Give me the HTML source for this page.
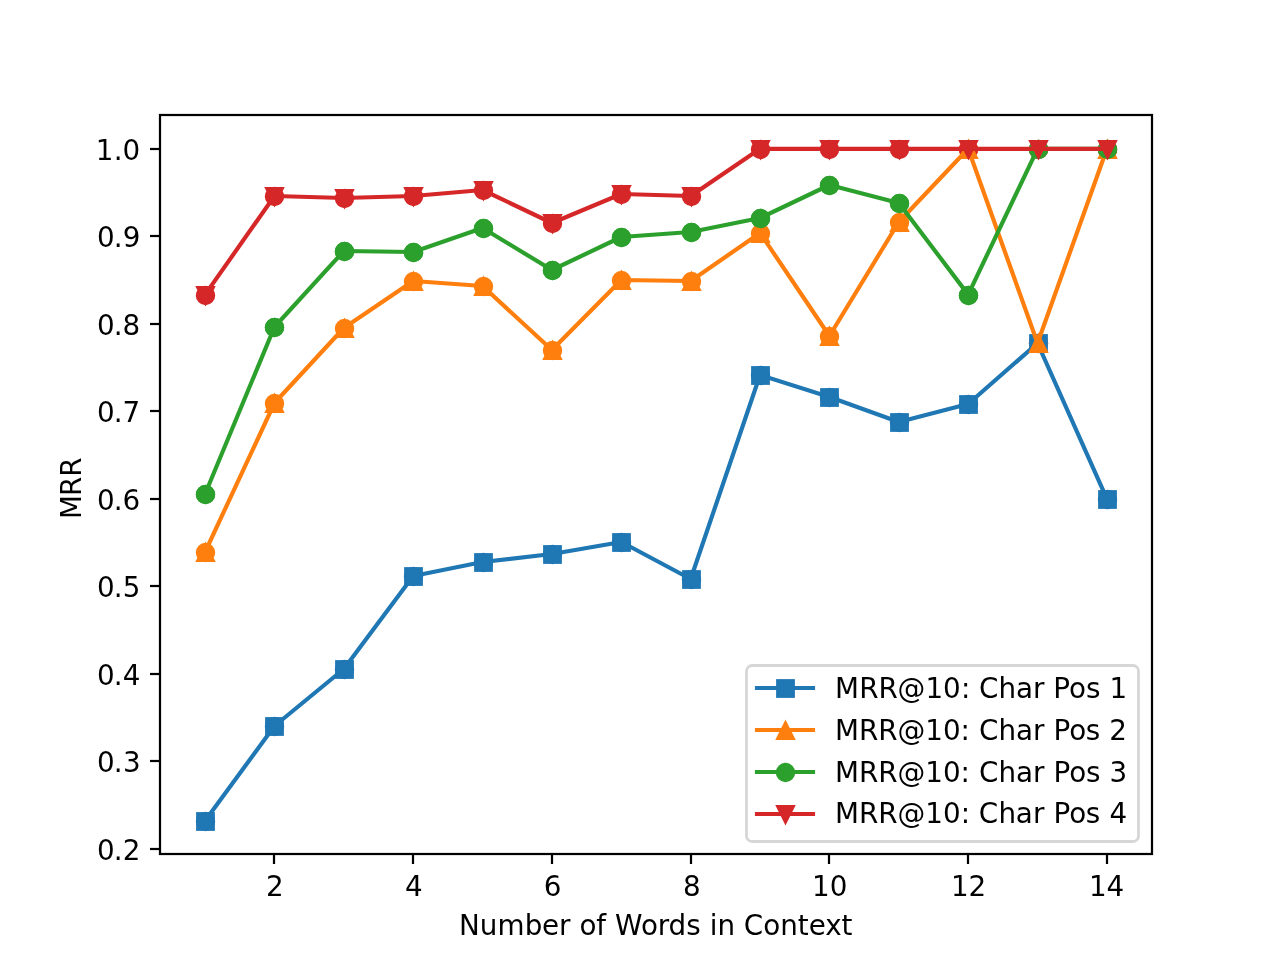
<!DOCTYPE html>
<html lang="en"><head><meta charset="utf-8"><title>MRR vs Number of Words in Context</title>
<style>html,body{margin:0;padding:0;background:#fff;overflow:hidden}svg{display:block}text{font-family:"DejaVu Sans","Liberation Sans",sans-serif;font-size:27.78px;fill:#000}</style></head><body>
<svg width="1280" height="960" viewBox="0 0 1280 960">
<rect width="1280" height="960" fill="#fff"/>
<g>
<circle cx="205.50" cy="821.50" r="8.333" fill="#1f77b4" stroke="#1f77b4" stroke-width="2.778"/>
<circle cx="274.50" cy="726.50" r="8.333" fill="#1f77b4" stroke="#1f77b4" stroke-width="2.778"/>
<circle cx="344.50" cy="669.50" r="8.333" fill="#1f77b4" stroke="#1f77b4" stroke-width="2.778"/>
<circle cx="413.50" cy="576.50" r="8.333" fill="#1f77b4" stroke="#1f77b4" stroke-width="2.778"/>
<circle cx="483.50" cy="562.50" r="8.333" fill="#1f77b4" stroke="#1f77b4" stroke-width="2.778"/>
<circle cx="552.50" cy="554.50" r="8.333" fill="#1f77b4" stroke="#1f77b4" stroke-width="2.778"/>
<circle cx="621.50" cy="542.50" r="8.333" fill="#1f77b4" stroke="#1f77b4" stroke-width="2.778"/>
<circle cx="691.50" cy="579.50" r="8.333" fill="#1f77b4" stroke="#1f77b4" stroke-width="2.778"/>
<circle cx="760.50" cy="375.50" r="8.333" fill="#1f77b4" stroke="#1f77b4" stroke-width="2.778"/>
<circle cx="829.50" cy="397.50" r="8.333" fill="#1f77b4" stroke="#1f77b4" stroke-width="2.778"/>
<circle cx="899.50" cy="422.50" r="8.333" fill="#1f77b4" stroke="#1f77b4" stroke-width="2.778"/>
<circle cx="968.50" cy="404.50" r="8.333" fill="#1f77b4" stroke="#1f77b4" stroke-width="2.778"/>
<circle cx="1038.50" cy="343.50" r="8.333" fill="#1f77b4" stroke="#1f77b4" stroke-width="2.778"/>
<circle cx="1107.50" cy="499.50" r="8.333" fill="#1f77b4" stroke="#1f77b4" stroke-width="2.778"/>
<circle cx="205.50" cy="552.50" r="8.333" fill="#ff7f0e" stroke="#ff7f0e" stroke-width="2.778"/>
<circle cx="274.50" cy="403.50" r="8.333" fill="#ff7f0e" stroke="#ff7f0e" stroke-width="2.778"/>
<circle cx="344.50" cy="328.50" r="8.333" fill="#ff7f0e" stroke="#ff7f0e" stroke-width="2.778"/>
<circle cx="413.50" cy="281.50" r="8.333" fill="#ff7f0e" stroke="#ff7f0e" stroke-width="2.778"/>
<circle cx="483.50" cy="286.50" r="8.333" fill="#ff7f0e" stroke="#ff7f0e" stroke-width="2.778"/>
<circle cx="552.50" cy="350.50" r="8.333" fill="#ff7f0e" stroke="#ff7f0e" stroke-width="2.778"/>
<circle cx="621.50" cy="280.50" r="8.333" fill="#ff7f0e" stroke="#ff7f0e" stroke-width="2.778"/>
<circle cx="691.50" cy="281.50" r="8.333" fill="#ff7f0e" stroke="#ff7f0e" stroke-width="2.778"/>
<circle cx="760.50" cy="233.50" r="8.333" fill="#ff7f0e" stroke="#ff7f0e" stroke-width="2.778"/>
<circle cx="829.50" cy="336.50" r="8.333" fill="#ff7f0e" stroke="#ff7f0e" stroke-width="2.778"/>
<circle cx="899.50" cy="222.50" r="8.333" fill="#ff7f0e" stroke="#ff7f0e" stroke-width="2.778"/>
<circle cx="968.50" cy="149.50" r="8.333" fill="#ff7f0e" stroke="#ff7f0e" stroke-width="2.778"/>
<circle cx="1038.50" cy="343.50" r="8.333" fill="#ff7f0e" stroke="#ff7f0e" stroke-width="2.778"/>
<circle cx="1107.50" cy="149.50" r="8.333" fill="#ff7f0e" stroke="#ff7f0e" stroke-width="2.778"/>
<circle cx="205.50" cy="494.50" r="8.333" fill="#2ca02c" stroke="#2ca02c" stroke-width="2.778"/>
<circle cx="274.50" cy="327.50" r="8.333" fill="#2ca02c" stroke="#2ca02c" stroke-width="2.778"/>
<circle cx="344.50" cy="251.50" r="8.333" fill="#2ca02c" stroke="#2ca02c" stroke-width="2.778"/>
<circle cx="413.50" cy="252.50" r="8.333" fill="#2ca02c" stroke="#2ca02c" stroke-width="2.778"/>
<circle cx="483.50" cy="228.50" r="8.333" fill="#2ca02c" stroke="#2ca02c" stroke-width="2.778"/>
<circle cx="552.50" cy="270.50" r="8.333" fill="#2ca02c" stroke="#2ca02c" stroke-width="2.778"/>
<circle cx="621.50" cy="237.50" r="8.333" fill="#2ca02c" stroke="#2ca02c" stroke-width="2.778"/>
<circle cx="691.50" cy="232.50" r="8.333" fill="#2ca02c" stroke="#2ca02c" stroke-width="2.778"/>
<circle cx="760.50" cy="218.50" r="8.333" fill="#2ca02c" stroke="#2ca02c" stroke-width="2.778"/>
<circle cx="829.50" cy="185.50" r="8.333" fill="#2ca02c" stroke="#2ca02c" stroke-width="2.778"/>
<circle cx="899.50" cy="203.50" r="8.333" fill="#2ca02c" stroke="#2ca02c" stroke-width="2.778"/>
<circle cx="968.50" cy="295.50" r="8.333" fill="#2ca02c" stroke="#2ca02c" stroke-width="2.778"/>
<circle cx="1038.50" cy="149.50" r="8.333" fill="#2ca02c" stroke="#2ca02c" stroke-width="2.778"/>
<circle cx="1107.50" cy="149.50" r="8.333" fill="#2ca02c" stroke="#2ca02c" stroke-width="2.778"/>
<circle cx="205.50" cy="295.50" r="8.333" fill="#d62728" stroke="#d62728" stroke-width="2.778"/>
<circle cx="274.50" cy="196.50" r="8.333" fill="#d62728" stroke="#d62728" stroke-width="2.778"/>
<circle cx="344.50" cy="198.50" r="8.333" fill="#d62728" stroke="#d62728" stroke-width="2.778"/>
<circle cx="413.50" cy="196.50" r="8.333" fill="#d62728" stroke="#d62728" stroke-width="2.778"/>
<circle cx="483.50" cy="190.50" r="8.333" fill="#d62728" stroke="#d62728" stroke-width="2.778"/>
<circle cx="552.50" cy="223.50" r="8.333" fill="#d62728" stroke="#d62728" stroke-width="2.778"/>
<circle cx="621.50" cy="194.50" r="8.333" fill="#d62728" stroke="#d62728" stroke-width="2.778"/>
<circle cx="691.50" cy="196.50" r="8.333" fill="#d62728" stroke="#d62728" stroke-width="2.778"/>
<circle cx="760.50" cy="149.50" r="8.333" fill="#d62728" stroke="#d62728" stroke-width="2.778"/>
<circle cx="829.50" cy="149.50" r="8.333" fill="#d62728" stroke="#d62728" stroke-width="2.778"/>
<circle cx="899.50" cy="149.50" r="8.333" fill="#d62728" stroke="#d62728" stroke-width="2.778"/>
<circle cx="968.50" cy="149.50" r="8.333" fill="#d62728" stroke="#d62728" stroke-width="2.778"/>
<circle cx="1038.50" cy="149.50" r="8.333" fill="#d62728" stroke="#d62728" stroke-width="2.778"/>
<circle cx="1107.50" cy="149.50" r="8.333" fill="#d62728" stroke="#d62728" stroke-width="2.778"/>
</g>
<g stroke="#000" stroke-width="2.222" fill="none">
<path d="M274 854V864"/>
<path d="M413 854V864"/>
<path d="M552 854V864"/>
<path d="M691 854V864"/>
<path d="M829 854V864"/>
<path d="M968 854V864"/>
<path d="M1107 854V864"/>
<path d="M160 849H150"/>
<path d="M160 761H150"/>
<path d="M160 674H150"/>
<path d="M160 586H150"/>
<path d="M160 499H150"/>
<path d="M160 411H150"/>
<path d="M160 324H150"/>
<path d="M160 236H150"/>
<path d="M160 149H150"/>
</g>
<text id="t_xt2" x="265.96" y="896.00">2</text>
<text id="t_xt4" x="405.05" y="896.00">4</text>
<text id="t_xt6" x="543.86" y="896.00">6</text>
<text id="t_xt8" x="682.93" y="896.00">8</text>
<text id="t_xt10" x="811.90 829.75" y="896.00">10</text>
<text id="t_xt12" x="950.89 968.61" y="896.00">12</text>
<text id="t_xt14" x="1089.02 1106.60" y="896.00">14</text>
<text id="t_xl" x="458.92 479.75 497.51 524.76 541.97 559.09 570.59 579.50 596.37 606.14 614.94 640.92 657.71 668.60 686.34 700.84 709.66 717.44 734.98 743.76 763.34 780.29 797.84 808.74 825.19 841.54" y="935.00">Number of Words in Context</text>
<text id="t_yl" x="-30.53 -7.55 11.76" transform="translate(81.33 488.47) rotate(-90)">MRR</text>
<text id="t_yt2" x="96.97 113.79 122.68" y="860.00">0.2</text>
<text id="t_yt3" x="97.11 113.69 122.91" y="772.00">0.3</text>
<text id="t_yt4" x="97.04 113.86 122.63" y="685.00">0.4</text>
<text id="t_yt5" x="97.09 113.69 122.82" y="597.00">0.5</text>
<text id="t_yt6" x="97.08 113.66 122.54" y="510.00">0.6</text>
<text id="t_yt7" x="97.01 113.83 122.54" y="422.00">0.7</text>
<text id="t_yt8" x="96.98 113.80 122.58" y="335.00">0.8</text>
<text id="t_yt9" x="97.11 113.69 122.80" y="247.00">0.9</text>
<text id="t_yt10" x="95.87 113.70 122.43" y="160.00">1.0</text>
<polyline points="205.09,820.80 274.46,726.00 343.83,669.00 413.20,576.00 482.57,562.00 551.94,554.00 621.31,542.00 690.69,579.00 760.06,375.00 829.43,397.00 898.80,422.00 968.17,404.00 1037.54,343.24 1106.91,498.80" fill="none" stroke="#1f77b4" stroke-width="4.167" stroke-linejoin="round" stroke-linecap="butt"/>
<g>
<rect x="197.50" y="813.50" width="16.000" height="16.000" fill="#1f77b4" stroke="#1f77b4" stroke-width="2.778" stroke-linejoin="miter"/>
<rect x="266.50" y="718.50" width="16.000" height="16.000" fill="#1f77b4" stroke="#1f77b4" stroke-width="2.778" stroke-linejoin="miter"/>
<rect x="336.50" y="661.50" width="16.000" height="16.000" fill="#1f77b4" stroke="#1f77b4" stroke-width="2.778" stroke-linejoin="miter"/>
<rect x="405.50" y="568.50" width="16.000" height="16.000" fill="#1f77b4" stroke="#1f77b4" stroke-width="2.778" stroke-linejoin="miter"/>
<rect x="475.50" y="554.50" width="16.000" height="16.000" fill="#1f77b4" stroke="#1f77b4" stroke-width="2.778" stroke-linejoin="miter"/>
<rect x="544.50" y="546.50" width="16.000" height="16.000" fill="#1f77b4" stroke="#1f77b4" stroke-width="2.778" stroke-linejoin="miter"/>
<rect x="613.50" y="534.50" width="16.000" height="16.000" fill="#1f77b4" stroke="#1f77b4" stroke-width="2.778" stroke-linejoin="miter"/>
<rect x="683.50" y="571.50" width="16.000" height="16.000" fill="#1f77b4" stroke="#1f77b4" stroke-width="2.778" stroke-linejoin="miter"/>
<rect x="752.50" y="367.50" width="16.000" height="16.000" fill="#1f77b4" stroke="#1f77b4" stroke-width="2.778" stroke-linejoin="miter"/>
<rect x="821.50" y="389.50" width="16.000" height="16.000" fill="#1f77b4" stroke="#1f77b4" stroke-width="2.778" stroke-linejoin="miter"/>
<rect x="891.50" y="414.50" width="16.000" height="16.000" fill="#1f77b4" stroke="#1f77b4" stroke-width="2.778" stroke-linejoin="miter"/>
<rect x="960.50" y="396.50" width="16.000" height="16.000" fill="#1f77b4" stroke="#1f77b4" stroke-width="2.778" stroke-linejoin="miter"/>
<rect x="1030.50" y="335.50" width="16.000" height="16.000" fill="#1f77b4" stroke="#1f77b4" stroke-width="2.778" stroke-linejoin="miter"/>
<rect x="1099.50" y="491.50" width="16.000" height="16.000" fill="#1f77b4" stroke="#1f77b4" stroke-width="2.778" stroke-linejoin="miter"/>
</g>
<polyline points="205.09,552.00 274.46,403.00 343.83,328.00 413.20,281.00 482.57,286.00 551.94,350.00 621.31,280.00 690.69,281.00 760.06,233.00 829.43,336.00 898.80,222.00 968.17,148.80 1037.54,343.24 1106.91,148.80" fill="none" stroke="#ff7f0e" stroke-width="4.167" stroke-linejoin="round" stroke-linecap="butt"/>
<g>
<path d="M205.50 544.50L197.50 560.50L213.50 560.50Z" fill="#ff7f0e" stroke="#ff7f0e" stroke-width="2.778" stroke-linejoin="miter"/>
<path d="M274.50 395.50L266.50 411.50L282.50 411.50Z" fill="#ff7f0e" stroke="#ff7f0e" stroke-width="2.778" stroke-linejoin="miter"/>
<path d="M344.50 320.50L336.50 336.50L352.50 336.50Z" fill="#ff7f0e" stroke="#ff7f0e" stroke-width="2.778" stroke-linejoin="miter"/>
<path d="M413.50 273.50L405.50 289.50L421.50 289.50Z" fill="#ff7f0e" stroke="#ff7f0e" stroke-width="2.778" stroke-linejoin="miter"/>
<path d="M483.50 278.50L475.50 294.50L491.50 294.50Z" fill="#ff7f0e" stroke="#ff7f0e" stroke-width="2.778" stroke-linejoin="miter"/>
<path d="M552.50 342.50L544.50 358.50L560.50 358.50Z" fill="#ff7f0e" stroke="#ff7f0e" stroke-width="2.778" stroke-linejoin="miter"/>
<path d="M621.50 272.50L613.50 288.50L629.50 288.50Z" fill="#ff7f0e" stroke="#ff7f0e" stroke-width="2.778" stroke-linejoin="miter"/>
<path d="M691.50 273.50L683.50 289.50L699.50 289.50Z" fill="#ff7f0e" stroke="#ff7f0e" stroke-width="2.778" stroke-linejoin="miter"/>
<path d="M760.50 225.50L752.50 241.50L768.50 241.50Z" fill="#ff7f0e" stroke="#ff7f0e" stroke-width="2.778" stroke-linejoin="miter"/>
<path d="M829.50 328.50L821.50 344.50L837.50 344.50Z" fill="#ff7f0e" stroke="#ff7f0e" stroke-width="2.778" stroke-linejoin="miter"/>
<path d="M899.50 214.50L891.50 230.50L907.50 230.50Z" fill="#ff7f0e" stroke="#ff7f0e" stroke-width="2.778" stroke-linejoin="miter"/>
<path d="M968.50 141.50L960.50 157.50L976.50 157.50Z" fill="#ff7f0e" stroke="#ff7f0e" stroke-width="2.778" stroke-linejoin="miter"/>
<path d="M1038.50 335.50L1030.50 351.50L1046.50 351.50Z" fill="#ff7f0e" stroke="#ff7f0e" stroke-width="2.778" stroke-linejoin="miter"/>
<path d="M1107.50 141.50L1099.50 157.50L1115.50 157.50Z" fill="#ff7f0e" stroke="#ff7f0e" stroke-width="2.778" stroke-linejoin="miter"/>
</g>
<polyline points="205.09,494.00 274.46,327.00 343.83,251.00 413.20,252.00 482.57,228.00 551.94,270.00 621.31,237.00 690.69,232.00 760.06,218.00 829.43,185.00 898.80,203.00 968.17,294.63 1037.54,148.80 1106.91,148.80" fill="none" stroke="#2ca02c" stroke-width="4.167" stroke-linejoin="round" stroke-linecap="butt"/>
<g>
<circle cx="205.50" cy="494.50" r="8.333" fill="#2ca02c" stroke="#2ca02c" stroke-width="2.778"/>
<circle cx="274.50" cy="327.50" r="8.333" fill="#2ca02c" stroke="#2ca02c" stroke-width="2.778"/>
<circle cx="344.50" cy="251.50" r="8.333" fill="#2ca02c" stroke="#2ca02c" stroke-width="2.778"/>
<circle cx="413.50" cy="252.50" r="8.333" fill="#2ca02c" stroke="#2ca02c" stroke-width="2.778"/>
<circle cx="483.50" cy="228.50" r="8.333" fill="#2ca02c" stroke="#2ca02c" stroke-width="2.778"/>
<circle cx="552.50" cy="270.50" r="8.333" fill="#2ca02c" stroke="#2ca02c" stroke-width="2.778"/>
<circle cx="621.50" cy="237.50" r="8.333" fill="#2ca02c" stroke="#2ca02c" stroke-width="2.778"/>
<circle cx="691.50" cy="232.50" r="8.333" fill="#2ca02c" stroke="#2ca02c" stroke-width="2.778"/>
<circle cx="760.50" cy="218.50" r="8.333" fill="#2ca02c" stroke="#2ca02c" stroke-width="2.778"/>
<circle cx="829.50" cy="185.50" r="8.333" fill="#2ca02c" stroke="#2ca02c" stroke-width="2.778"/>
<circle cx="899.50" cy="203.50" r="8.333" fill="#2ca02c" stroke="#2ca02c" stroke-width="2.778"/>
<circle cx="968.50" cy="295.50" r="8.333" fill="#2ca02c" stroke="#2ca02c" stroke-width="2.778"/>
<circle cx="1038.50" cy="149.50" r="8.333" fill="#2ca02c" stroke="#2ca02c" stroke-width="2.778"/>
<circle cx="1107.50" cy="149.50" r="8.333" fill="#2ca02c" stroke="#2ca02c" stroke-width="2.778"/>
</g>
<polyline points="205.09,294.63 274.46,196.00 343.83,198.00 413.20,196.00 482.57,190.00 551.94,223.00 621.31,194.00 690.69,196.00 760.06,148.80 829.43,148.80 898.80,148.80 968.17,148.80 1037.54,148.80 1106.91,148.80" fill="none" stroke="#d62728" stroke-width="4.167" stroke-linejoin="round" stroke-linecap="butt"/>
<g>
<path d="M205.50 303.50L197.50 287.50L213.50 287.50Z" fill="#d62728" stroke="#d62728" stroke-width="2.778" stroke-linejoin="miter"/>
<path d="M274.50 204.50L266.50 188.50L282.50 188.50Z" fill="#d62728" stroke="#d62728" stroke-width="2.778" stroke-linejoin="miter"/>
<path d="M344.50 206.50L336.50 190.50L352.50 190.50Z" fill="#d62728" stroke="#d62728" stroke-width="2.778" stroke-linejoin="miter"/>
<path d="M413.50 204.50L405.50 188.50L421.50 188.50Z" fill="#d62728" stroke="#d62728" stroke-width="2.778" stroke-linejoin="miter"/>
<path d="M483.50 198.50L475.50 182.50L491.50 182.50Z" fill="#d62728" stroke="#d62728" stroke-width="2.778" stroke-linejoin="miter"/>
<path d="M552.50 231.50L544.50 215.50L560.50 215.50Z" fill="#d62728" stroke="#d62728" stroke-width="2.778" stroke-linejoin="miter"/>
<path d="M621.50 202.50L613.50 186.50L629.50 186.50Z" fill="#d62728" stroke="#d62728" stroke-width="2.778" stroke-linejoin="miter"/>
<path d="M691.50 204.50L683.50 188.50L699.50 188.50Z" fill="#d62728" stroke="#d62728" stroke-width="2.778" stroke-linejoin="miter"/>
<path d="M760.50 157.50L752.50 141.50L768.50 141.50Z" fill="#d62728" stroke="#d62728" stroke-width="2.778" stroke-linejoin="miter"/>
<path d="M829.50 157.50L821.50 141.50L837.50 141.50Z" fill="#d62728" stroke="#d62728" stroke-width="2.778" stroke-linejoin="miter"/>
<path d="M899.50 157.50L891.50 141.50L907.50 141.50Z" fill="#d62728" stroke="#d62728" stroke-width="2.778" stroke-linejoin="miter"/>
<path d="M968.50 157.50L960.50 141.50L976.50 141.50Z" fill="#d62728" stroke="#d62728" stroke-width="2.778" stroke-linejoin="miter"/>
<path d="M1038.50 157.50L1030.50 141.50L1046.50 141.50Z" fill="#d62728" stroke="#d62728" stroke-width="2.778" stroke-linejoin="miter"/>
<path d="M1107.50 157.50L1099.50 141.50L1115.50 141.50Z" fill="#d62728" stroke="#d62728" stroke-width="2.778" stroke-linejoin="miter"/>
</g>
<rect x="160" y="115" width="992" height="739" fill="none" stroke="#000" stroke-width="2.222"/>
<rect x="746.5" y="665.5" width="392" height="176" rx="5.56" fill="#fff" fill-opacity="0.8" stroke="#ccc" stroke-opacity="0.8" stroke-width="2.778"/>
<path d="M754.92 688H815.08" stroke="#1f77b4" stroke-width="4.167" fill="none"/>
<rect x="777.50" y="680.50" width="16.000" height="16.000" fill="#1f77b4" stroke="#1f77b4" stroke-width="2.778" stroke-linejoin="miter"/>
<text id="t_lg1" x="834.94 859.13 878.38 897.50 925.42 943.09 960.99 970.21 978.92 998.45 1015.99 1032.93 1044.43 1053.37 1069.08 1085.98 1100.49 1109.38" y="698.00">MRR@10: Char Pos 1</text>
<path d="M754.92 730H815.08" stroke="#ff7f0e" stroke-width="4.167" fill="none"/>
<path d="M785.50 722.50L777.50 738.50L793.50 738.50Z" fill="#ff7f0e" stroke="#ff7f0e" stroke-width="2.778" stroke-linejoin="miter"/>
<text id="t_lg2" x="835.02 859.09 878.31 897.62 925.35 943.04 960.59 970.00 978.91 998.42 1015.91 1033.00 1044.58 1053.60 1069.19 1085.87 1100.41 1109.33" y="740.00">MRR@10: Char Pos 2</text>
<path d="M754.92 772H815.08" stroke="#2ca02c" stroke-width="4.167" fill="none"/>
<circle cx="785.50" cy="772.50" r="8.333" fill="#2ca02c" stroke="#2ca02c" stroke-width="2.778"/>
<text id="t_lg3" x="834.99 859.06 878.28 897.59 925.32 943.01 960.56 969.97 978.88 998.39 1015.88 1032.97 1044.55 1053.57 1069.16 1086.00 1100.52 1109.43" y="782.00">MRR@10: Char Pos 3</text>
<path d="M754.92 814H815.08" stroke="#d62728" stroke-width="4.167" fill="none"/>
<path d="M785.50 822.50L777.50 806.50L793.50 806.50Z" fill="#d62728" stroke="#d62728" stroke-width="2.778" stroke-linejoin="miter"/>
<text id="t_lg4" x="835.01 858.99 878.24 897.57 925.28 942.95 960.85 970.07 978.78 998.39 1015.85 1033.02 1044.49 1053.40 1069.17 1085.83 1100.44 1109.44" y="823.00">MRR@10: Char Pos 4</text>
</svg></body></html>
